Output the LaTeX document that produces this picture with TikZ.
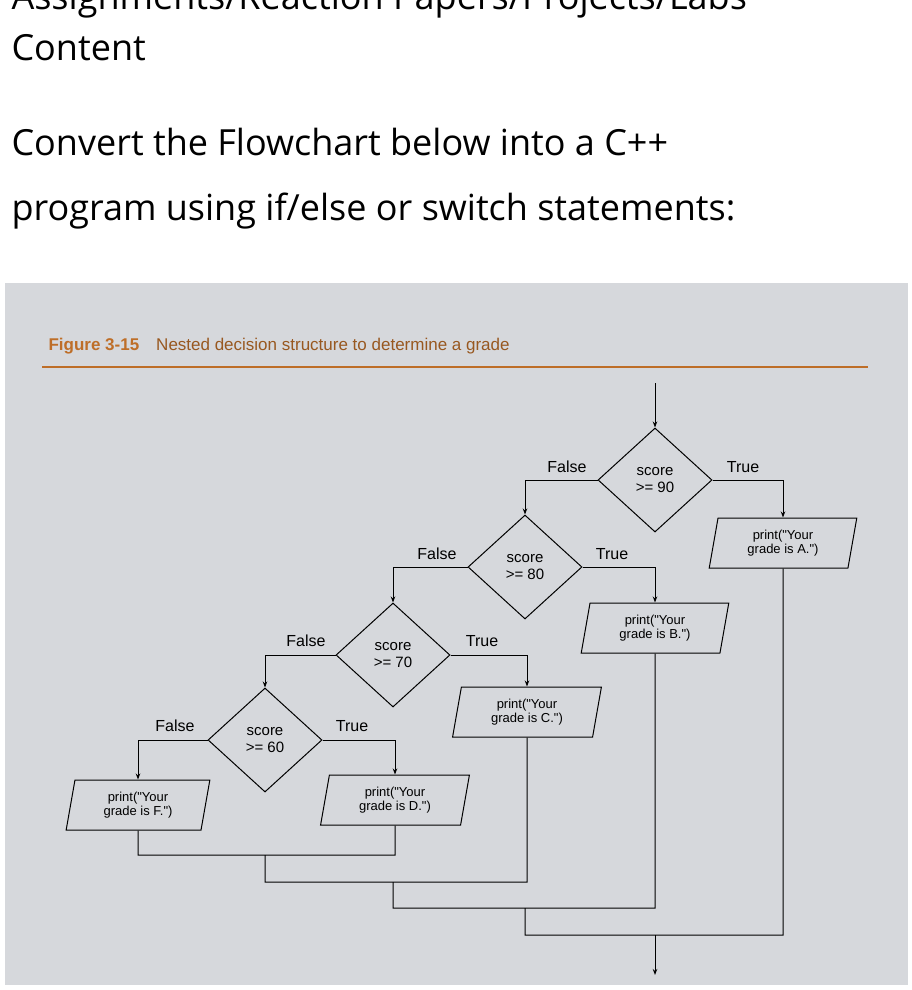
\documentclass[tikz,border=0pt]{standalone}
\usepackage{fontspec}
\setmainfont{Open Sans}
\newfontfamily\fcfont{Liberation Sans}
\usetikzlibrary{shapes.geometric,arrows.meta}
\definecolor{photo}{RGB}{214,216,220}
\definecolor{capor}{RGB}{190,110,40}
\begin{document}
\begin{tikzpicture}[x=1pt,y=-1pt,
  dec/.style={diamond,draw,line width=1pt,minimum width=114pt,minimum height=104pt,inner sep=0pt,font=\fcfont\fontsize{15}{17}\selectfont,align=center},
  outp/.style={trapezium,trapezium left angle=80,trapezium right angle=100,draw,line width=1pt,minimum width=110pt,minimum height=50pt,inner sep=1pt,font=\fcfont\fontsize{13}{14}\selectfont,align=center},
  ln/.style={line width=1pt},
  arr/.style={line width=1pt,-{Stealth[length=6pt]}},
  lab/.style={font=\fcfont\fontsize{16}{18}\selectfont}]
\useasboundingbox (0,0) rectangle (912,990);
\fill[white] (0,0) rectangle (912,990);
\node[anchor=base west,font=\fontsize{36}{40}\selectfont] (c0) at (8,10) {Assignments/Reaction Papers/Projects/Labs};
\node[anchor=base west,font=\fontsize{36}{40}\selectfont] (c1) at (8,60) {Content};
\node[anchor=base west,font=\fontsize{36}{40}\selectfont] (c2) at (8,155) {Convert the Flowchart below into a C++};
\node[anchor=base west,font=\fontsize{36}{40}\selectfont] (c3) at (8,220) {program using if/else or switch statements:};
\fill[photo] (5,283) rectangle (908,985);
\node[anchor=base west,font=\fcfont\fontsize{17}{19}\selectfont] (cap) at (45,350) {\textcolor{capor}{\textbf{Figure 3-15}}\quad\textcolor{capor!80!black}{Nested decision structure to determine a grade}};
\draw[capor,line width=2pt] (42,367) -- (868,367);
\node[dec] (d90) at (655,480) {score\\>= 90};
\node[dec] (d80) at (525,567) {score\\>= 80};
\node[dec] (d70) at (393,655) {score\\>= 70};
\node[dec] (d60) at (265,740) {score\\>= 60};
\node[outp] (pA) at (783,543) {print("Your\\grade is A.")};
\node[outp] (pB) at (655,628) {print("Your\\grade is B.")};
\node[outp] (pC) at (527,712) {print("Your\\grade is C.")};
\node[outp] (pD) at (395,800) {print("Your\\grade is D.")};
\node[outp] (pF) at (138,805) {print("Your\\grade is F.")};
\coordinate (in) at (655,383);
\coordinate (out) at (655,975);
\draw[arr] (in) -- (d90.north);
\draw[arr] (d90.east) -| (pA.north);
\draw[arr] (d90.west) -| (d80.north);
\draw[arr] (d80.east) -| (pB.north);
\draw[arr] (d80.west) -| (d70.north);
\draw[arr] (d70.east) -| (pC.north);
\draw[arr] (d70.west) -| (d60.north);
\draw[arr] (d60.east) -| (pD.north);
\draw[arr] (d60.west) -| (pF.north);
\node[lab,anchor=south] at (567,476) {False};
\node[lab,anchor=south] at (743,476) {True};
\node[lab,anchor=south] at (437,563) {False};
\node[lab,anchor=south] at (612,563) {True};
\node[lab,anchor=south] at (306,650) {False};
\node[lab,anchor=south] at (482,650) {True};
\node[lab,anchor=south] at (175,735) {False};
\node[lab,anchor=south] at (352,735) {True};
\draw[ln] (pF.south) -- (138,855) -- (395,855) -- (pD.south);
\draw[ln] (265,855) -- (265,882) -- (527,882) -- (pC.south);
\draw[ln] (393,882) -- (393,908) -- (655,908) -- (pB.south);
\draw[ln] (525,908) -- (525,935) -- (783,935) -- (pA.south);
\draw[arr] (655,935) -- (out);
\end{tikzpicture}
\end{document}
